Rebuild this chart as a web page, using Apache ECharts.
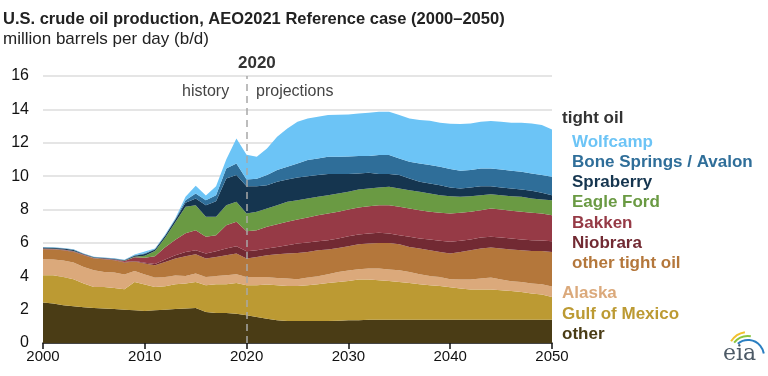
<!DOCTYPE html>
<html>
<head>
<meta charset="utf-8">
<script src="https://cdn.jsdelivr.net/npm/echarts@6/dist/echarts.min.js"></script>
<style>
  html, body { margin: 0; padding: 0; background: #fff; }
  #main { width: 768px; height: 376px; }
</style>
</head>
<body>
<div id="main"></div>
<script>
// years 2000..2050
var years = [];
for (var y = 2000; y <= 2050; y++) years.push(String(y));

var yTicks = [0, 2, 4, 6, 8, 10, 12, 14, 16];

// million b/d (bottom of stack first)
var other = [2.42, 2.36, 2.26, 2.20, 2.14, 2.10, 2.06, 2.04, 2.00, 1.96,
  1.92, 1.96, 2.00, 2.04, 2.06, 2.10, 1.86, 1.80, 1.80, 1.76,
  1.66, 1.56, 1.46, 1.36, 1.32, 1.32, 1.32, 1.32, 1.32, 1.34,
  1.36, 1.36, 1.40, 1.40, 1.40, 1.40, 1.40, 1.40, 1.40, 1.40,
  1.40, 1.40, 1.40, 1.40, 1.40, 1.40, 1.40, 1.40, 1.40, 1.40, 1.40];
var gulfOfMexico = [1.64, 1.70, 1.70, 1.62, 1.42, 1.26, 1.30, 1.26, 1.22, 1.70,
  1.58, 1.40, 1.40, 1.48, 1.50, 1.56, 1.60, 1.72, 1.72, 1.84,
  1.80, 1.90, 2.04, 2.10, 2.10, 2.10, 2.14, 2.20, 2.28, 2.32,
  2.36, 2.44, 2.40, 2.36, 2.32, 2.26, 2.20, 2.12, 2.06, 2.02,
  1.94, 1.86, 1.80, 1.80, 1.80, 1.76, 1.72, 1.66, 1.56, 1.50, 1.36];
var alaska = [0.96, 0.94, 0.98, 1.00, 1.00, 1.00, 0.90, 0.92, 0.88, 0.66,
  0.60, 0.56, 0.56, 0.52, 0.46, 0.50, 0.50, 0.50, 0.54, 0.52,
  0.50, 0.50, 0.46, 0.44, 0.44, 0.40, 0.46, 0.48, 0.52, 0.60,
  0.62, 0.62, 0.66, 0.70, 0.68, 0.70, 0.66, 0.60, 0.56, 0.54,
  0.48, 0.54, 0.60, 0.66, 0.72, 0.64, 0.58, 0.60, 0.60, 0.62, 0.62];
var otherTightOil = [0.60, 0.60, 0.62, 0.64, 0.70, 0.70, 0.76, 0.74, 0.72, 0.56,
  0.66, 0.74, 0.90, 1.02, 1.18, 1.16, 1.10, 1.14, 1.20, 1.24,
  1.10, 1.20, 1.30, 1.42, 1.50, 1.58, 1.54, 1.56, 1.48, 1.44,
  1.46, 1.50, 1.50, 1.54, 1.60, 1.56, 1.50, 1.54, 1.54, 1.50,
  1.54, 1.66, 1.76, 1.80, 1.80, 1.86, 1.90, 1.90, 1.96, 2.00, 2.08];
var niobrara = [0.02, 0.02, 0.02, 0.02, 0.02, 0.02, 0.02, 0.02, 0.04, 0.04,
  0.05, 0.08, 0.14, 0.20, 0.26, 0.24, 0.30, 0.34, 0.40, 0.44,
  0.44, 0.40, 0.40, 0.44, 0.50, 0.56, 0.56, 0.54, 0.56, 0.56,
  0.60, 0.58, 0.60, 0.60, 0.56, 0.54, 0.60, 0.60, 0.64, 0.66,
  0.70, 0.66, 0.64, 0.66, 0.64, 0.66, 0.66, 0.64, 0.64, 0.62, 0.64];
var bakken = [0.02, 0.02, 0.02, 0.02, 0.02, 0.02, 0.02, 0.02, 0.06, 0.22,
  0.30, 0.46, 0.74, 0.92, 1.12, 1.20, 1.00, 0.96, 1.40, 1.46,
  1.20, 1.20, 1.30, 1.36, 1.40, 1.44, 1.50, 1.56, 1.60, 1.60,
  1.60, 1.62, 1.64, 1.66, 1.70, 1.70, 1.70, 1.70, 1.66, 1.68,
  1.70, 1.68, 1.66, 1.64, 1.70, 1.68, 1.66, 1.66, 1.64, 1.62, 1.56];
var eagleFord = [0.01, 0.01, 0.01, 0.01, 0.01, 0.01, 0.01, 0.01, 0.01, 0.03,
  0.12, 0.32, 0.56, 1.06, 1.58, 1.50, 1.20, 1.10, 1.20, 1.20,
  1.06, 1.10, 1.10, 1.14, 1.20, 1.16, 1.14, 1.10, 1.10, 1.10,
  1.06, 1.08, 1.06, 1.06, 1.10, 1.10, 1.10, 1.10, 1.10, 1.06,
  1.04, 0.96, 0.94, 0.90, 0.86, 0.86, 0.88, 0.90, 0.86, 0.84, 0.90];
var spraberry = [0.05, 0.05, 0.05, 0.06, 0.03, 0.03, 0.02, 0.03, 0.03, 0.06,
  0.10, 0.08, 0.12, 0.14, 0.24, 0.40, 0.70, 0.94, 1.60, 1.60,
  1.64, 1.54, 1.40, 1.40, 1.34, 1.36, 1.34, 1.30, 1.26, 1.16,
  1.06, 0.96, 0.94, 0.80, 0.76, 0.80, 0.70, 0.60, 0.60, 0.60,
  0.52, 0.50, 0.52, 0.54, 0.48, 0.46, 0.46, 0.44, 0.46, 0.40, 0.30];
var boneSprings = [0.02, 0.02, 0.02, 0.03, 0.01, 0.01, 0.02, 0.02, 0.01, 0.03,
  0.05, 0.03, 0.04, 0.05, 0.16, 0.30, 0.30, 0.35, 0.60, 0.70,
  0.40, 0.44, 0.60, 0.70, 0.76, 0.84, 0.96, 1.00, 1.04, 1.04,
  1.06, 1.04, 1.00, 1.14, 1.14, 1.00, 1.00, 1.10, 1.10, 1.10,
  1.10, 1.06, 1.04, 1.06, 1.06, 1.08, 1.06, 1.06, 1.04, 1.06, 1.10];
var wolfcamp = [0.02, 0.02, 0.02, 0.02, 0.02, 0.02, 0.01, 0.02, 0.02, 0.05,
  0.10, 0.03, 0.04, 0.05, 0.20, 0.46, 0.28, 0.55, 0.53, 1.50,
  1.48, 1.32, 1.60, 2.00, 2.30, 2.50, 2.50, 2.50, 2.50, 2.52,
  2.52, 2.56, 2.60, 2.60, 2.60, 2.60, 2.60, 2.60, 2.66, 2.64,
  2.72, 2.80, 2.80, 2.80, 2.84, 2.86, 2.88, 2.94, 3.00, 3.00, 2.84];

var seriesNames = ['other', 'Gulf of Mexico', 'Alaska', 'other tight oil', 'Niobrara',
  'Bakken', 'Eagle Ford', 'Spraberry', 'Bone Springs / Avalon', 'Wolfcamp'];
var seriesData = [other, gulfOfMexico, alaska, otherTightOil, niobrara,
  bakken, eagleFord, spraberry, boneSprings, wolfcamp];
var colors = ['#4a3c15', '#bc9a33', '#dba97b', '#b4773b', '#722a33',
  '#963a46', '#6a9a43', '#15354f', '#2f6e99', '#6cc4f6'];

var chart = echarts.init(document.getElementById('main'), null, {renderer: 'canvas'});

var series = seriesData.map(function (d, i) {
  var s = {
    name: seriesNames[i],
    type: 'line',
    stack: 'total',
    data: d,
    symbol: 'none',
    lineStyle: { width: 0 },
    areaStyle: { color: colors[i], opacity: 1 },
    itemStyle: { color: colors[i] },
    z: 2
  };
  if (i === seriesData.length - 1) {
    s.markLine = {
      silent: true,
      symbol: 'none',
      z: 5,
      lineStyle: { color: '#a8a8a8', type: [7, 5], width: 1.5 },
      label: { show: false },
      data: [{ xAxis: '2020' }]
    };
  }
  return s;
});

var legendFont = 'bold 17px "Liberation Sans"';
var graphics = [
  { type: 'text', left: 3, top: 11,
    style: { text: 'U.S. crude oil production, AEO2021 Reference case (2000\u20132050)',
      font: 'bold 16.5px "Liberation Sans"', fill: '#222' } },
  { type: 'text', left: 3, top: 31,
    style: { text: 'million barrels per day (b/d)', font: '17px "Liberation Sans"', fill: '#222' } },
  { type: 'text', left: 238, top: 55,
    style: { text: '2020', font: 'bold 17px "Liberation Sans"', fill: '#333' } },
  { type: 'text', left: 182, top: 84,
    style: { text: 'history', font: '16px "Liberation Sans"', fill: '#444' } },
  { type: 'text', left: 256, top: 84,
    style: { text: 'projections', font: '16px "Liberation Sans"', fill: '#444' } },
  { type: 'text', left: 562, top: 110,
    style: { text: 'tight oil', font: legendFont, fill: '#333' } }
];
// legend text on the right, top to bottom
[9, 8, 7, 6, 5, 4, 3].forEach(function (idx, k) {
  graphics.push({ type: 'text', left: 572, top: 134 + k * 20.1,
    style: { text: seriesNames[idx], font: legendFont, fill: colors[idx] } });
});
[2, 1, 0].forEach(function (idx, k) {
  graphics.push({ type: 'text', left: 562, top: 285 + k * 20.4,
    style: { text: seriesNames[idx], font: legendFont, fill: colors[idx] } });
});
// eia mark
graphics.push(
  { type: 'arc', shape: { cx: 748, cy: 352, r: 20, startAngle: -Math.PI * 0.82, endAngle: -Math.PI * 0.55 },
    style: { stroke: '#f2c12e', lineWidth: 2, fill: null } },
  { type: 'arc', shape: { cx: 748, cy: 354, r: 18, startAngle: -Math.PI * 0.78, endAngle: -Math.PI * 0.45 },
    style: { stroke: '#8cc63f', lineWidth: 2, fill: null } },
  { type: 'arc', shape: { cx: 748, cy: 356, r: 16, startAngle: -Math.PI * 0.72, endAngle: -Math.PI * 0.05 },
    style: { stroke: '#2b7fc1', lineWidth: 2, fill: null } },
  { type: 'text', left: 723, top: 343,
    style: { text: 'eia', font: '22px "DejaVu Serif"', fill: '#4d5a66' } }
);

var option = {
  animation: false,
  grid: { left: 43, right: 216, top: 76, bottom: 33, containLabel: false },
  xAxis: {
    type: 'category',
    boundaryGap: false,
    data: years,
    axisLine: { lineStyle: { color: '#111', width: 1.5 } },
    axisTick: {
      show: true,
      length: 6,
      interval: function (i) { return i % 10 === 0; },
      lineStyle: { color: '#111', width: 1.5 }
    },
    axisLabel: {
      interval: function (i) { return i % 10 === 0; },
      fontFamily: 'Liberation Sans',
      fontSize: 15,
      color: '#111',
      margin: 6
    },
    splitLine: { show: false }
  },
  yAxis: {
    type: 'value',
    min: yTicks[0],
    max: yTicks[yTicks.length - 1],
    interval: 2,
    axisLine: { show: false },
    axisTick: { show: false },
    axisLabel: { fontFamily: 'Liberation Sans', fontSize: 16, color: '#111', margin: 14 },
    splitLine: { lineStyle: { color: '#dcdcdc', width: 1.5 } }
  },
  series: series,
  graphic: graphics
};

chart.setOption(option);
</script>
</body>
</html>
